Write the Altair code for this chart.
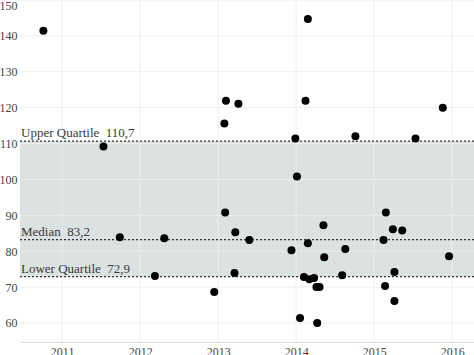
import altair as alt
import pandas as pd

# Scatter points: fractional year, value
years = [2010.76, 2011.53, 2011.74, 2012.19, 2012.31, 2012.95, 2013.09, 2013.08,
         2013.10, 2013.26, 2013.22, 2013.21, 2013.40, 2013.94, 2014.01, 2013.99,
         2014.15, 2014.12, 2014.15, 2014.05, 2014.10, 2014.17, 2014.23, 2014.26,
         2014.30, 2014.27, 2014.35, 2014.36, 2014.59, 2014.63, 2014.76, 2015.53,
         2015.88, 2015.15, 2015.24, 2015.36, 2015.12, 2015.26, 2015.14, 2015.26,
         2015.96]
values = [141.4, 109.2, 83.9, 73.1, 83.6, 68.6, 90.8, 115.6,
          121.9, 121.1, 85.3, 73.9, 83.1, 80.3, 100.8, 111.4,
          144.7, 121.9, 82.2, 61.4, 72.8, 72.2, 72.5, 70.0,
          70.0, 60.0, 87.2, 78.3, 73.3, 80.6, 112.0, 111.4,
          120.0, 90.8, 86.1, 85.8, 83.1, 74.2, 70.3, 66.1,
          78.6]

quart_values = [110.7, 83.2, 72.9]
quart_labels = ["Upper Quartile\u00a0\u00a0110,7", "Median\u00a0\u00a083,2", "Lower Quartile\u00a0\u00a072,9"]

year_ticks = [2011, 2012, 2013, 2014, 2015, 2016]
value_ticks = [60, 70, 80, 90, 100, 110, 120, 130, 140, 150]

pts = pd.DataFrame({"year": years, "value": values})
quart = pd.DataFrame({"value": quart_values, "label": quart_labels})
band = pd.DataFrame({"lo": [quart_values[2]], "hi": [quart_values[0]]})
ygrid = pd.DataFrame({"value": value_ticks})
xgrid = pd.DataFrame({"year": year_ticks})

FONT = "Liberation Serif"

xscale = alt.Scale(domain=[2010.46, 2016.28], nice=False, zero=False)
yscale = alt.Scale(domain=[54.7, 150], nice=False, zero=False)

xaxis = alt.Axis(values=year_ticks, format="d", title=None, ticks=False,
                 grid=False, domainColor="#dddddd",
                 labelFont=FONT, labelFontSize=12, labelColor="#444444",
                 labelPadding=4, labelFlush=False, labelOverlap=False)
yaxis = alt.Axis(values=value_ticks, title=None, ticks=False, domain=False,
                 grid=False,
                 labelFont=FONT, labelFontSize=12, labelColor="#444444",
                 labelPadding=3, labelFlush=True, labelOverlap=False)

band_layer = alt.Chart(band).mark_rect(color="#dce1e1").encode(
    y=alt.Y("lo:Q", scale=yscale, axis=yaxis),
    y2="hi:Q",
)

hgrid = alt.Chart(ygrid).mark_rule(color="#eeeeee", strokeWidth=1).encode(
    y=alt.Y("value:Q", scale=yscale, axis=yaxis)
)
vgrid = alt.Chart(xgrid).mark_rule(color="#eeeeee", strokeWidth=1).encode(
    x=alt.X("year:Q", scale=xscale, axis=xaxis)
)

rules = alt.Chart(quart).mark_rule(color="#333333", strokeDash=[2, 2], strokeWidth=1.2).encode(
    y=alt.Y("value:Q", scale=yscale, axis=yaxis)
)

texts = alt.Chart(quart).mark_text(
    align="left", baseline="alphabetic", dx=0, dy=-4,
    font=FONT, fontSize=13, color="#3a3a3a"
).encode(
    x=alt.value(1),
    y=alt.Y("value:Q", scale=yscale, axis=yaxis),
    text="label:N",
)

points = alt.Chart(pts).mark_circle(size=64, color="black", opacity=1).encode(
    x=alt.X("year:Q", scale=xscale, axis=xaxis),
    y=alt.Y("value:Q", scale=yscale, axis=yaxis),
)

chart = alt.layer(band_layer, hgrid, vgrid, rules, texts, points).properties(
    width=454, height=342,
    autosize=alt.AutoSizeParams(type="none"),
    padding={"left": 20, "top": 0, "right": 0, "bottom": 13},
    background="white",
).configure_view(stroke=None).configure_axis(labelOverlap=False)

chart.save("out.html", embed_options={"renderer": "svg", "actions": False})
